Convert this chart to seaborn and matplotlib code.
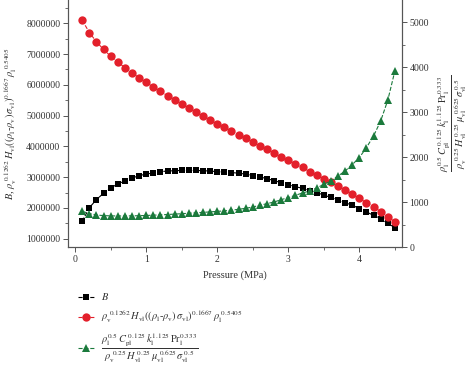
import numpy as np
import matplotlib
matplotlib.use("Agg")
import matplotlib.pyplot as plt
import seaborn as sns

# Pressure (MPa)
pressure = [0.1, 0.2, 0.3, 0.4, 0.5, 0.6, 0.7, 0.8, 0.9, 1.0,
            1.1, 1.2, 1.3, 1.4, 1.5, 1.6, 1.7, 1.8, 1.9, 2.0,
            2.1, 2.2, 2.3, 2.4, 2.5, 2.6, 2.7, 2.8, 2.9, 3.0,
            3.1, 3.2, 3.3, 3.4, 3.5, 3.6, 3.7, 3.8, 3.9, 4.0,
            4.1, 4.2, 4.3, 4.4, 4.5]

# B (left axis, x 1e6)
b_vals = [1.57, 2.01, 2.27, 2.48, 2.65, 2.78, 2.88, 2.97, 3.05, 3.10,
          3.14, 3.18, 3.20, 3.21, 3.22, 3.22, 3.22, 3.21, 3.20, 3.18,
          3.16, 3.15, 3.13, 3.10, 3.05, 3.01, 2.95, 2.89, 2.82, 2.76,
          2.69, 2.64, 2.56, 2.50, 2.42, 2.34, 2.26, 2.17, 2.09, 1.98,
          1.87, 1.76, 1.65, 1.50, 1.36]

# second group (left axis, x 1e6)
rho_vals = [8.10, 7.70, 7.40, 7.15, 6.93, 6.74, 6.56, 6.39, 6.23, 6.08,
            5.93, 5.79, 5.65, 5.52, 5.38, 5.25, 5.12, 4.99, 4.86, 4.74,
            4.62, 4.50, 4.38, 4.26, 4.14, 4.02, 3.90, 3.79, 3.67, 3.55,
            3.43, 3.32, 3.18, 3.07, 2.95, 2.83, 2.71, 2.58, 2.45, 2.31,
            2.17, 2.04, 1.88, 1.71, 1.55]

# ratio group (right axis)
ratio_vals = [795, 744, 712, 700, 694, 692, 692, 694, 698, 703,
              709, 716, 724, 733, 742, 752, 762, 772, 782, 794,
              805, 820, 840, 862, 891, 929, 966, 1002, 1055, 1100,
              1151, 1203, 1247, 1314, 1396, 1470, 1581, 1693, 1835, 1991,
              2214, 2472, 2806, 3267, 3920]

b_arr = np.array(b_vals) * 1e6
rho_arr = np.array(rho_vals) * 1e6

sns.set_style("ticks")
plt.rcParams['font.family'] = ['Liberation Serif', 'DejaVu Serif']
plt.rcParams['mathtext.fontset'] = 'stix'

red = '#e3202b'
green = '#1b7a3c'
spine_c = '#555555'

lbl_b = r'$B$'
lbl_rho = (r'$\rho_{\mathrm{v}}^{\ 0.1262}\,H_{\mathrm{vl}}((\rho_{\mathrm{l}}$-$\rho_{\mathrm{v}})'
           r'\,\sigma_{\mathrm{vl}})^{0.1667}\,\rho_{\mathrm{l}}^{\ 0.5405}$')
lbl_ratio = (r'$\dfrac{\rho_{\mathrm{l}}^{0.5}\,C_{\mathrm{pl}}^{\ 0.125}\,k_{\mathrm{l}}^{1.125}\,'
             r'\mathrm{Pr}_{\mathrm{l}}^{0.333}}{\rho_{\mathrm{v}}^{\ 0.25}\,H_{\mathrm{vl}}^{\ 0.25}\,'
             r'\mu_{\mathrm{vl}}^{\ 0.625}\sigma_{\mathrm{vl}}^{\ 0.5}}$')

fig = plt.figure(figsize=(4.74, 3.66), dpi=100)
ax = fig.add_axes([0.1435, 0.325, 0.7046, 0.675])
ax2 = ax.twinx()

sns.lineplot(x=pressure, y=b_arr, ax=ax, color='black', marker='s', linestyle='--',
             linewidth=0.8, markersize=5, markeredgewidth=0, label=lbl_b)
sns.lineplot(x=pressure, y=rho_arr, ax=ax, color=red, marker='o', linestyle='--',
             linewidth=0.8, markersize=6, markeredgewidth=0, label=lbl_rho)
sns.lineplot(x=pressure, y=ratio_vals, ax=ax2, color=green, marker='^', linestyle='--',
             linewidth=0.8, markersize=5.5, markeredgewidth=0, label=lbl_ratio)

ax.set_xlim(-0.1, 4.6)
ax.set_ylim(0.73e6, 8.757e6)
ax2.set_ylim(0, 5497)

ax.set_xticks([0, 1, 2, 3, 4])
ax.set_xticks([0.5, 1.5, 2.5, 3.5, 4.5], minor=True)
ax.set_yticks(np.arange(1e6, 8.5e6, 1e6))
ax.set_yticks(np.arange(1.5e6, 8.6e6, 1e6), minor=True)
ax.yaxis.set_major_formatter(matplotlib.ticker.FuncFormatter(lambda v, p: f'{int(round(v))}'))
ax2.set_yticks([0, 1000, 2000, 3000, 4000, 5000])
ax2.set_yticks([500, 1500, 2500, 3500, 4500], minor=True)

for a in (ax, ax2):
    a.spines['top'].set_visible(False)
    for s in a.spines.values():
        s.set_color(spine_c)
        s.set_linewidth(0.8)
    a.tick_params(which='major', direction='out', length=3.5, width=0.7,
                  color=spine_c, labelsize=7, labelcolor='#333333', pad=2)
    a.tick_params(which='minor', direction='out', length=2.5, width=0.6, color=spine_c)
    if a.get_legend() is not None:
        a.get_legend().remove()

ax.set_xlabel('Pressure (MPa)', fontsize=7.5, labelpad=5, color='#333333')
ax.set_ylabel(r'$B$, ' + lbl_rho, fontsize=7.5, labelpad=5, color='#333333')
ax2.set_ylabel(lbl_ratio, fontsize=7.5, labelpad=4, color='#333333')

h1, l1 = ax.get_legend_handles_labels()
h2, l2 = ax2.get_legend_handles_labels()
fig.legend(h1 + h2, l1 + l2, loc='upper left', bbox_to_anchor=(0.155, 0.215),
           frameon=False, fontsize=7.5, handlelength=1.6, handletextpad=0.6,
           labelspacing=0.6, borderaxespad=0, labelcolor='#333333')

fig.savefig('out.png', dpi=100)
